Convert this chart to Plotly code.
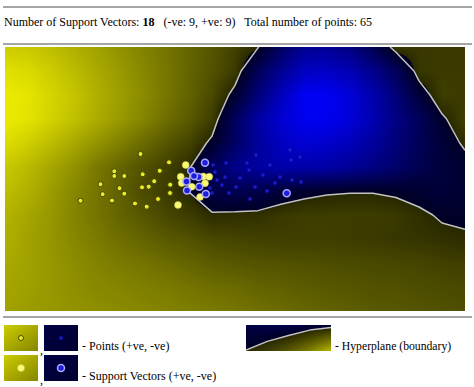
import plotly.graph_objects as go

W, H = 474, 387

# ---------------- data ----------------
# decision-value field (grid over the plot area, y grows downward)
grid_x = [0, 23, 46, 69, 92, 115, 138, 161, 184, 207, 230, 253, 276, 299, 322, 345, 368, 391, 414, 437, 460]
grid_y = [0, 24, 48, 72, 96, 120, 144, 168, 192, 216, 240, 264]
decision = [
    [80, 78, 73, 66, 59, 51, 44, 37, 29, 22, 12, 1, -28, -50, -52, -42, -20, 7, 8, 8, 8],
    [90, 87, 80, 72, 63, 55, 46, 38, 29, 20, 9, -25, -50, -72, -74, -65, -48, -25, 7, 9, 9],
    [95, 92, 84, 76, 66, 57, 48, 38, 28, 16, -6, -40, -70, -95, -95, -82, -62, -38, -10, 11, 9],
    [95, 91, 83, 74, 64, 55, 45, 34, 24, 10, -28, -58, -80, -93, -93, -82, -64, -43, -25, -3, 12],
    [88, 81, 72, 62, 52, 42, 32, 22, 13, -4, -30, -55, -72, -80, -77, -68, -55, -39, -23, -10, 3],
    [78, 71, 61, 51, 39, 29, 20, 12, 2, -25, -48, -57, -61, -61, -59, -52, -43, -32, -20, -11, -7],
    [73, 66, 56, 46, 37, 27, 17, 10, -0.5, -15, -20, -18, -10, -5, -2, -1, -1, -3, -6, -10, -7],
    [68, 61, 54, 44, 37, 29, 22, 15, 10, 2, 3, 4, 8, 10, 10, 10, 10, 8, 3, -2, -3],
    [66, 59, 53, 46, 40, 34, 29, 24, 20, 16, 14, 12, 11, 11, 11, 10, 9, 7, 6, 4, 2],
    [63, 59, 54, 49, 44, 40, 37, 33, 29, 25, 23, 21, 20, 19, 18, 17, 16, 15, 14, 12, 11],
    [61, 58, 54, 50, 47, 45, 42, 40, 37, 34, 32, 29, 27, 25, 23, 22, 20, 20, 18, 17, 16],
    [59, 56, 54, 52, 50, 48, 46, 44, 42, 40, 38, 35, 33, 30, 28, 26, 24, 23, 21, 20, 19],
]

pos_x = [135.5, 164, 109.3, 109.3, 119.3, 137.7, 154.7, 149.2, 95.5, 114.5, 137, 143.7, 165.2,
         97.7, 119.3, 165, 153, 107, 130, 141.7, 75.5]
pos_y = [107, 115.3, 124.3, 129, 129, 127.3, 123.8, 134.2, 137.2, 141.2, 140.3, 139.7, 137.7,
         147.2, 146.7, 146, 152, 153.5, 156.5, 159.7, 153.7]

pos_sv_x = [180.7, 175.7, 176.7, 173, 186.7, 198.3, 204.2, 200, 195]
pos_sv_y = [118, 129.7, 136, 158, 139.7, 129.5, 129.7, 136.3, 150]

neg_x = [208, 210, 221, 242, 251, 265, 244, 220, 235, 258, 275, 285, 295, 286, 287, 296, 217,
         231, 250, 262, 207, 224, 245, 205, 212, 270]
neg_y = [118, 125, 116, 116, 108, 118, 123, 130, 131, 128, 130, 103, 110, 113, 133, 135, 138,
         140, 140, 144, 146, 146, 152, 141, 133, 136]

neg_sv_x = [200, 186.2, 193.5, 181.5, 194.2, 182, 200.8, 281.7, 189]
neg_sv_y = [115.7, 123.8, 130, 134.5, 139.7, 143.5, 147.1, 146.3, 129]

# legend swatch shading values
swatch_pos = [[80, 62], [62, 45]]
swatch_neg = [[-15, -10], [-10, -6]]
swatch_hyper_x = [0, 0.25, 0.5, 0.75, 1]
swatch_hyper = [[-15, -17, -17, -11, -8],
                [0.5, 10, 25, 45, 72]]

n_pos_sv = len(pos_sv_x)
n_neg_sv = len(neg_sv_x)
n_total = len(pos_x) + len(pos_sv_x) + len(neg_x) + len(neg_sv_x)

# ---------------- styling ----------------
colorscale = [[0.0, 'rgb(0,0,255)'], [0.5, 'rgb(0,0,35)'],
              [0.5, 'rgb(40,40,0)'], [1.0, 'rgb(245,245,0)']]
SERIF = "Liberation Serif"
POS_M = dict(size=5, color='rgb(235,235,40)', line=dict(color='rgb(70,70,0)', width=1))
POS_SV_M = dict(size=7, color='rgb(250,250,120)', line=dict(color='rgb(200,200,60)', width=0.5))
NEG_M = dict(size=4, color='rgba(40,40,255,0.7)', line=dict(color='rgba(0,0,110,0.5)', width=1))
NEG_SV_M = dict(size=7, color='rgb(30,30,220)', line=dict(color='rgb(170,170,255)', width=1.5))


def fx(px):
    return px / W


def fy(py):
    return 1 - py / H


fig = go.Figure()

# main decision field
fig.add_trace(go.Heatmap(x=grid_x, y=grid_y, z=decision, zmin=-100, zmax=100,
                         colorscale=colorscale, zsmooth='best', showscale=False,
                         hoverinfo='skip', xaxis='x', yaxis='y'))
fig.add_trace(go.Contour(x=grid_x, y=grid_y, z=decision, autocontour=False,
                         contours=dict(start=0, end=0, size=1, coloring='none'),
                         line=dict(color='rgb(195,195,195)', width=1.5, smoothing=0),
                         showscale=False, hoverinfo='skip', xaxis='x', yaxis='y'))
fig.add_trace(go.Scatter(x=neg_x, y=neg_y, mode='markers', marker=NEG_M, xaxis='x', yaxis='y'))
fig.add_trace(go.Scatter(x=pos_x, y=pos_y, mode='markers', marker=POS_M, xaxis='x', yaxis='y'))
fig.add_trace(go.Scatter(x=pos_sv_x, y=pos_sv_y, mode='markers', marker=POS_SV_M, xaxis='x', yaxis='y'))
fig.add_trace(go.Scatter(x=neg_sv_x, y=neg_sv_y, mode='markers', marker=NEG_SV_M, xaxis='x', yaxis='y'))

# legend swatches: (axis index, shading, marker, px box)
swatches = [
    (2, swatch_pos, POS_M, (4, 38, 325, 351)),
    (3, swatch_neg, NEG_M, (44, 78, 325, 351)),
    (4, swatch_pos, POS_SV_M, (4, 38, 355, 381)),
    (5, swatch_neg, NEG_SV_M, (44, 78, 355, 381)),
]
axis_style = dict(showgrid=False, zeroline=False, showticklabels=False, ticks='',
                  showline=False, fixedrange=True)
layout_axes = {}
for idx, shade, mk, (x0, x1, y0, y1) in swatches:
    xa, ya = f'x{idx}', f'y{idx}'
    fig.add_trace(go.Heatmap(x=[0, 1], y=[0, 1], z=shade, zmin=-100, zmax=100,
                             colorscale=colorscale, zsmooth='best', showscale=False,
                             hoverinfo='skip', xaxis=xa, yaxis=ya))
    fig.add_trace(go.Scatter(x=[0.5], y=[0.5], mode='markers', marker=mk, xaxis=xa, yaxis=ya))
    layout_axes[f'xaxis{idx}'] = dict(domain=[fx(x0), fx(x1)], range=[0, 1], anchor=ya, **axis_style)
    layout_axes[f'yaxis{idx}'] = dict(domain=[fy(y1), fy(y0)], range=[1, 0], anchor=xa, **axis_style)

# hyperplane swatch
fig.add_trace(go.Heatmap(x=swatch_hyper_x, y=[0, 1], z=swatch_hyper, zmin=-100, zmax=100,
                         colorscale=colorscale, zsmooth='best', showscale=False,
                         hoverinfo='skip', xaxis='x6', yaxis='y6'))
fig.add_trace(go.Contour(x=swatch_hyper_x, y=[0, 1], z=swatch_hyper, autocontour=False,
                         contours=dict(start=0, end=0, size=1, coloring='none'),
                         line=dict(color='rgb(195,195,195)', width=1.5, smoothing=0),
                         showscale=False, hoverinfo='skip', xaxis='x6', yaxis='y6'))
layout_axes['xaxis6'] = dict(domain=[fx(246), fx(331)], range=[0, 1], anchor='y6', **axis_style)
layout_axes['yaxis6'] = dict(domain=[fy(351), fy(325)], range=[1, 0], anchor='x6', **axis_style)

# separators
shapes = []
for py in (7, 44, 317):
    shapes.append(dict(type='line', xref='paper', yref='paper', x0=fx(3), x1=fx(472),
                       y0=fy(py), y1=fy(py), line=dict(color='rgb(165,165,165)', width=2)))

header = (f"Number of Support Vectors: <b>{n_pos_sv + n_neg_sv}</b>   "
          f"(-ve: {n_neg_sv}, +ve: {n_pos_sv})   Total number of points: {n_total}")


def label(text, px, py, size=12):
    return dict(text=text, xref='paper', yref='paper', x=fx(px), y=fy(py), xanchor='left',
                yanchor='middle', showarrow=False, font=dict(family=SERIF, size=size, color='black'))


annotations = [
    label(header, 2, 22.5),
    label("- Points (+ve, -ve)", 80, 346),
    label("- Support Vectors (+ve, -ve)", 80, 376),
    label("- Hyperplane (boundary)", 333, 346, 11.7),
    label(",", 38, 350),
    label(",", 38, 380),
]

fig.update_layout(
    width=W, height=H, margin=dict(l=0, r=0, t=0, b=0),
    paper_bgcolor='white', plot_bgcolor='white', showlegend=False,
    xaxis=dict(domain=[fx(5), fx(465)], range=[0, 460], anchor='y', **axis_style),
    yaxis=dict(domain=[fy(311), fy(47)], range=[264, 0], anchor='x', **axis_style),
    shapes=shapes, annotations=annotations, **layout_axes,
)

fig.write_html("out.html", config={'displayModeBar': False},
               post_script="document.body.style.margin='0';document.body.style.overflow='hidden';")
